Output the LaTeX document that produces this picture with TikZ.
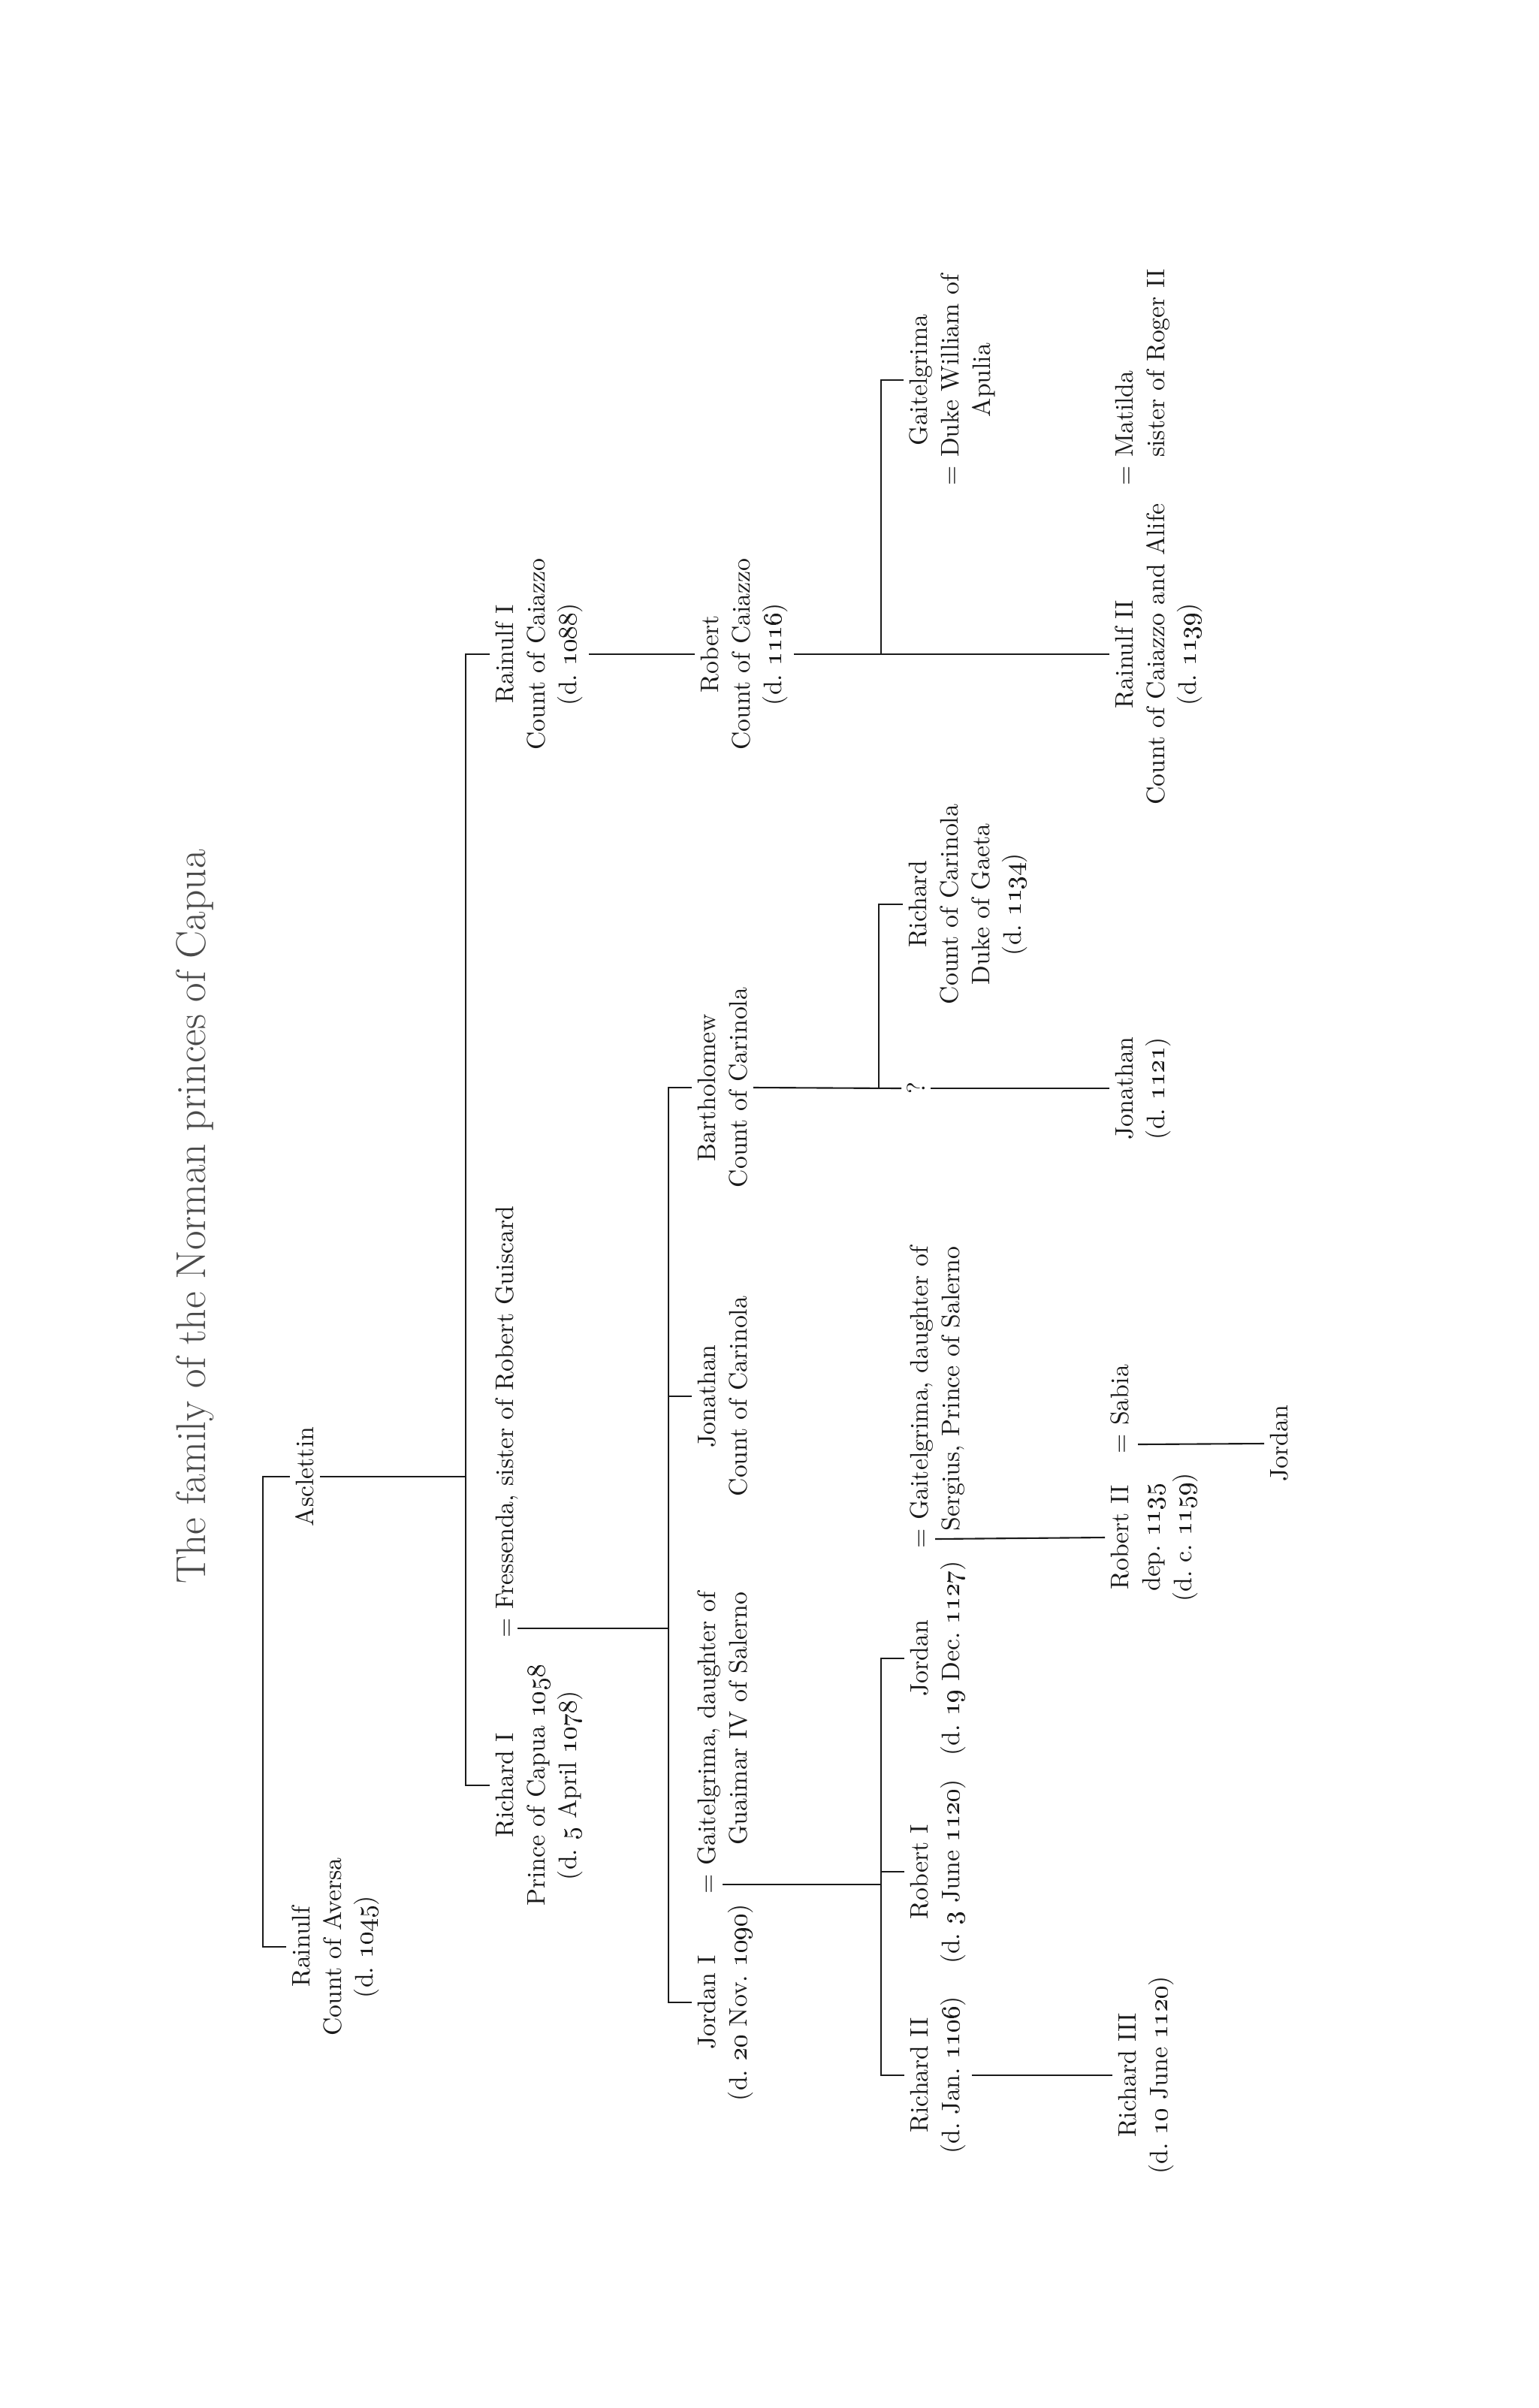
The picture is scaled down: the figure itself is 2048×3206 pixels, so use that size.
\documentclass[tikz,border=0pt]{standalone}
\usepackage{tikz}
\definecolor{npInk}{HTML}{1A1A1A}
\definecolor{npTitle}{HTML}{4A4A4A}
\newcommand{\yr}[1]{\oldstylenums{#1}}
\frenchspacing
\tikzset{
  person/.style={rotate=90, anchor=north, align=center, inner sep=2pt, text=npInk,
    font=\fontsize{9.6}{12}\selectfont},
  spouse/.style={rotate=90, anchor=north west, inner sep=2pt, text=npInk,
    font=\fontsize{9.6}{12}\selectfont},
  heading/.style={rotate=90, anchor=base, font=\fontsize{15.8}{19}\selectfont, text=npTitle},
  famline/.style={line width=0.6pt, npInk}
}
\begin{document}
\begin{tikzpicture}[x=0.01cm, y=-0.01cm]
  \useasboundingbox (0,0) rectangle (2048,3206);
  \node[heading] (title) at (273,1620) {The family of the Norman princes of Capua};
  % generation 0
  \node[person] (ascletin) at (386,1966) {Asclettin};
  \node[person] (rainulf) at (381,2592) {Rainulf\\Count of Aversa\\(d. \yr{1045})};
  % generation 1
  \node[person] (rainulfI) at (652,871) {Rainulf I\\Count of Caiazzo\\(d. \yr{1088})};
  \node[person] (richardI) at (652,2377) {Richard I\\Prince of Capua \yr{1058}\\(d. \yr{5} April \yr{1078})};
  \node[spouse] (fressenda) at (652,2188) {= Fressenda, sister of Robert Guiscard};
  % generation 2
  \node[person] (robert) at (925,871) {Robert\\Count of Caiazzo\\(d. \yr{1116})};
  \node[person] (bartholomew) at (921,1448) {Bartholomew\\Count of Carinola};
  \node[person] (jonathan) at (921,1859) {Jonathan\\Count of Carinola};
  \node[person] (jordanI) at (921,2666) {Jordan I\\(d. \yr{20} Nov. \yr{1090})};
  \node[spouse, align=right] (gaitJ) at (921,2529) {= Gaitelgrima, daughter of\\Guaimar IV of Salerno};
  % generation 3
  \node[person] (gaitelgrima) at (1203,506) {Gaitelgrima\\= Duke William of\\Apulia};
  \node[person] (richardC) at (1202,1204) {Richard\\Count of Carinola\\Duke of Gaeta\\(d. \yr{1134})};
  \node[person] (query) at (1200,1449) {?};
  \node[person] (jordanB) at (1204,2208) {Jordan\\(d. \yr{19} Dec. \yr{1127})};
  \node[spouse, align=right] (gaitS) at (1204,2069) {= Gaitelgrima, daughter of\\Sergius, Prince of Salerno};
  \node[person] (robertI) at (1204,2492) {Robert I\\(d. \yr{3} June \yr{1120})};
  \node[person] (richardII) at (1204,2763) {Richard II\\(d. Jan. \yr{1106})};
  % generation 4
  \node[person] (rainulfII) at (1477,871) {Rainulf II\\Count of Caiazzo and Alife\\(d. \yr{1139})};
  \node[spouse, align=left] (matilda) at (1477,654) {= Matilda\\\hphantom{= }sister of Roger II};
  \node[person] (jonathanC) at (1477,1449) {Jonathan\\(d. \yr{1121})};
  \node[person] (robertII) at (1471,2047) {Robert II\\dep. \yr{1135}\\(d. c. \yr{1159})};
  \node[spouse] (sabia) at (1471,1943) {= Sabia};
  \node[person] (richardIII) at (1481,2763) {Richard III\\(d. \yr{10} June \yr{1120})};
  % generation 5
  \node[person] (jordanD) at (1683,1922) {Jordan};
  % bars and marriage marks
  \coordinate (b0) at (350,1966);
  \coordinate (b1) at (620,1966);
  \coordinate (b2) at (890,2168);
  \coordinate (b3) at (1173,2509);
  \coordinate (b4) at (1173,871);
  \coordinate (b5) at (1170,1448);
  \coordinate (m1) at (689,2168);
  \coordinate (m2) at (962,2509);
  \coordinate (m3) at (1245,2049);
  \coordinate (m4) at (1515,1923);
  % connectors
  \draw[famline] (ascletin.north) -- (b0) |- (rainulf.north);
  \draw[famline] (ascletin.south) -- (b1);
  \draw[famline] (rainulfI.north) -| (b1) |- (richardI.north);
  \draw[famline] (m1) -- (b2);
  \draw[famline] (bartholomew.north) -| (b2) |- (jordanI.north);
  \draw[famline] (jonathan.north) -- (jonathan.north -| b2);
  \draw[famline] (rainulfI.south) -- (robert.north);
  \draw[famline] (robert.south) -- (rainulfII.north);
  \draw[famline] (b4) |- (gaitelgrima.north);
  \draw[famline] (bartholomew.south) -- (query.north);
  \draw[famline] (b5) |- (richardC.north);
  \draw[famline] (query.south) -- (jonathanC.north);
  \draw[famline] (m2) -- (b3);
  \draw[famline] (jordanB.north) -| (b3) |- (richardII.north);
  \draw[famline] (b3) |- (robertI.north);
  \draw[famline] (richardII.south) -- (richardIII.north);
  \draw[famline] (m3) -- (robertII.north);
  \draw[famline] (m4) -- (jordanD.north);
\end{tikzpicture}
\end{document}
